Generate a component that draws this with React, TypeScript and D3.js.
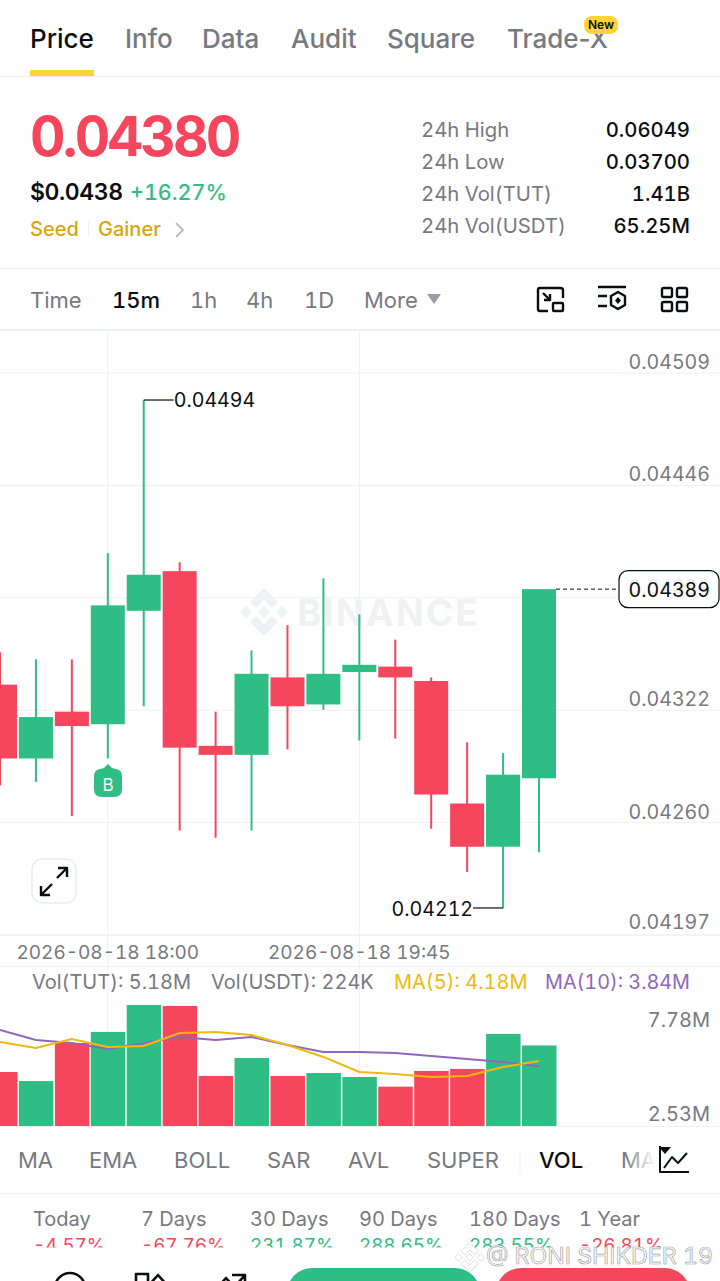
import React, { useEffect, useRef } from "react";
import * as d3 from "d3";

const FONT = "Inter, sans-serif";
const GREEN = "#2ebd85";
const RED = "#f6465d";
const GREY = "#76797f";
const INK = "#0b0e11";
const LOGO = "M264,588 L278,602 L272,608 L264,600 L256,608 L250,602 Z M264,636 L278,622 L272,616 L264,624 L256,616 L250,622 Z M240,612 L246,606 L252,612 L246,618 Z M276,612 L282,606 L288,612 L282,618 Z M264,606 L270,612 L264,618 L258,612 Z";

const tabs = ["Price", "Info", "Data", "Audit", "Square", "Trade-X"];
const tabX = [30, 125, 202, 291, 387, 507];
const stats = ["24h High", "24h Low", "24h Vol(TUT)", "24h Vol(USDT)"];
const statValues = ["0.06049", "0.03700", "1.41B", "65.25M"];
const intervals = ["Time", "15m", "1h", "4h", "1D", "More"];
const intervalX = [30, 112, 190, 246, 304, 364];
const indicators = ["MA", "EMA", "BOLL", "SAR", "AVL", "SUPER", "VOL", "MA"];
const indicatorX = [18, 89, 174, 267, 348, 427, 539, 621];
const periods = ["Today", "7 Days", "30 Days", "90 Days", "180 Days", "1 Year"];
const periodX = [33, 141, 250, 359, 469, 579];
const periodValues = ["-4.57%", "-67.76%", "231.87%", "288.65%", "283.55%", "-26.81%"];

// candles, left to right
const opens = [0.04336, 0.04295, 0.04321, 0.04314, 0.04377, 0.04399, 0.04302, 0.04297, 0.0434, 0.04325, 0.04343, 0.04346, 0.04338, 0.0427, 0.04246, 0.04284];
const closes = [0.04295, 0.04318, 0.04313, 0.0438, 0.04397, 0.04301, 0.04297, 0.04342, 0.04324, 0.04342, 0.04347, 0.0434, 0.04275, 0.04246, 0.04286, 0.04389];
const highs = [0.04354, 0.0435, 0.0435, 0.04409, 0.04494, 0.04404, 0.04321, 0.04355, 0.04369, 0.04395, 0.04375, 0.04361, 0.0434, 0.04304, 0.04298, 0.04389];
const lows = [0.0428, 0.04282, 0.04263, 0.04295, 0.04324, 0.04255, 0.04251, 0.04255, 0.043, 0.04322, 0.04305, 0.04306, 0.04256, 0.04232, 0.04212, 0.04243];
const priceTicks = ["0.04509", "0.04446", "0.04384", "0.04322", "0.04260", "0.04197"];

// volume in millions
const volumes = [3.47, 2.89, 5.34, 6.05, 7.78, 7.72, 3.22, 4.37, 3.22, 3.41, 3.15, 2.53, 3.54, 3.67, 5.92, 5.18];
const ma5 = [5.4, 5.02, 5.59, 5.08, 5.14, 5.98, 6.05, 5.85, 5.21, 4.44, 3.47, 3.34, 3.15, 3.22, 3.79, 4.18];
const ma10 = [6.17, 5.53, 5.34, 4.95, 5.34, 5.72, 5.53, 5.72, 5.21, 4.76, 4.76, 4.69, 4.5, 4.31, 4.12, 3.84];

const timeLabels = [
  { index: 3, text: "2026-08-18 18:00" },
  { index: 10, text: "2026-08-18 19:45" },
];

type Sel = d3.Selection<SVGGElement, unknown, null, undefined>;

function label(
  g: Sel,
  x: number,
  y: number,
  text: string,
  size: number,
  fill: string,
  anchor = "start",
  weight = 400
) {
  return g
    .append("text")
    .attr("x", x)
    .attr("y", y)
    .attr("font-size", size)
    .attr("font-weight", weight)
    .attr("fill", fill)
    .attr("text-anchor", anchor)
    .text(text);
}

function line(g: Sel, x1: number, y1: number, x2: number, y2: number, stroke: string, width = 1) {
  return g
    .append("line")
    .attr("x1", x1)
    .attr("y1", y1)
    .attr("x2", x2)
    .attr("y2", y2)
    .attr("stroke", stroke)
    .attr("stroke-width", width);
}

function outline(g: Sel, d: string, width = 2.4, stroke = INK) {
  return g
    .append("path")
    .attr("d", d)
    .attr("fill", "none")
    .attr("stroke", stroke)
    .attr("stroke-width", width)
    .attr("stroke-linejoin", "round");
}

export default function App() {
  const svgRef = useRef<SVGSVGElement>(null);

  useEffect(() => {
    const svg = d3.select(svgRef.current);
    svg.selectAll("*").remove();
    const root = svg
      .append("g")
      .attr("font-family", FONT)
      .style("font-variant-numeric", "tabular-nums") as unknown as Sel;

    const x = d3.scaleLinear().domain([0, 15]).range([0, 539]);
    const y = d3.scaleLinear().domain([0.04197, 0.04509]).range([935, 373]);
    const yTick = d3.scalePoint<string>().domain(priceTicks).range([373, 935]);
    const yVol = d3.scaleLinear().domain([0, 7.78]).range([1126, 1005]);
    const bodyW = 34;
    const colorOf = (i: number) => (closes[i] >= opens[i] ? GREEN : RED);
    const idx = d3.range(opens.length);

    // top tabs
    tabs.forEach((t, i) =>
      label(root, tabX[i], 48, t, 26, i === 0 ? INK : GREY, "start", 500).style("font-variant-numeric", "normal")
    );
    root.append("rect").attr("x", 30).attr("y", 70).attr("width", 64).attr("height", 6).attr("fill", "#fcd535");
    line(root, 0, 76.5, 720, 76.5, "#eeeff1");
    root.append("rect").attr("x", 584).attr("y", 16).attr("width", 34).attr("height", 18).attr("rx", 8).attr("fill", "#fcd535");
    label(root, 601, 29, "New", 12, INK, "middle", 600);

    // price header
    label(root, 30, 156, "0.04380", 55, RED, "start", 700).attr("letter-spacing", -2.8);
    label(root, 30, 200, "$0.0438", 23, INK, "start", 600).attr("letter-spacing", -0.4);
    label(root, 130, 200, "+16.27%", 21.5, GREEN, "start", 500);
    label(root, 30, 236, "Seed", 20, "#d9a507", "start", 500);
    line(root, 88.5, 222, 88.5, 236, "#eeeff1");
    label(root, 98, 236, "Gainer", 20, "#d9a507", "start", 500);
    outline(root, "M176,223 L183,230 L176,237", 1.6, "#a9adb3");
    stats.forEach((s, i) => {
      const rowY = 137 + i * 32;
      label(root, 421, rowY, s, 20.3, GREY);
      label(root, 690, rowY, statValues[i], 20.3, INK, "end", 500);
    });
    line(root, 0, 268.5, 720, 268.5, "#eeeff1");

    // interval row
    intervals.forEach((t, i) => label(root, intervalX[i], 308, t, 22, i === 1 ? INK : GREY, "start", i === 1 ? 500 : 400));
    root.append("path").attr("d", "M427,294 L441,294 L434,304 Z").attr("fill", "#9a9da3");
    outline(root, "M563,298 L563,290 Q563,288 560,288 L540,288 Q538,288 538,290 L538,309 Q538,311 540,311 L548,311");
    outline(root, "M543,293 L550,300 M550,294 L550,300 L544,300");
    root.append("rect").attr("x", 553).attr("y", 303).attr("width", 10).attr("height", 8).attr("rx", 1).attr("fill", "none").attr("stroke", INK).attr("stroke-width", 2.4);
    outline(root, "M598,287 L626,287 M598,296 L607,296 M598,306 L607,306");
    outline(root, "M618,292 L625,296 L625,305 L618,309 L611,305 L611,296 Z");
    root.append("path").attr("d", "M618,297 L621,300.5 L618,304 L615,300.5 Z").attr("fill", INK);
    [[662, 288], [677, 288], [662, 302], [677, 302]].forEach(([a, b]) => {
      root.append("rect").attr("x", a).attr("y", b).attr("width", 10).attr("height", 9).attr("rx", 1.5).attr("fill", "none").attr("stroke", INK).attr("stroke-width", 2.4);
    });
    line(root, 0, 330, 720, 330, "#eeeff1", 2);

    // price grid
    priceTicks.forEach((p) => line(root, 0, yTick(p)!, 720, yTick(p)!, "#eff0f2"));
    timeLabels.forEach((t) => line(root, x(t.index), 331, x(t.index), 1126, "#eff0f2"));

    // watermark behind candles
    const mark = root.append("g").attr("fill", "#f0f1f2") as unknown as Sel;
    mark.append("path").attr("d", LOGO);
    label(mark, 297, 626, "BINANCE", 37, "#f0f1f2", "start", 700).attr("letter-spacing", 2);

    // axis labels
    priceTicks.forEach((p, i) => {
      label(root, 710, yTick(p)! - (i === priceTicks.length - 1 ? 6 : 4), p, 19.6, GREY, "end");
    });

    // wicks and bodies
    root.append("g").selectAll("line").data(idx).enter().append("line")
      .attr("x1", (i) => x(i)).attr("x2", (i) => x(i))
      .attr("y1", (i) => y(highs[i])).attr("y2", (i) => y(lows[i]))
      .attr("stroke", colorOf).attr("stroke-width", 2);
    root.append("g").selectAll("rect").data(idx).enter().append("rect")
      .attr("x", (i) => x(i) - bodyW / 2).attr("width", bodyW)
      .attr("y", (i) => y(Math.max(opens[i], closes[i])))
      .attr("height", (i) => Math.abs(y(opens[i]) - y(closes[i])))
      .attr("fill", colorOf);

    // high / low callouts
    const hi = d3.maxIndex(highs);
    const lo = d3.minIndex(lows);
    line(root, x(hi), y(highs[hi]), x(hi) + 30, y(highs[hi]), INK, 1.2);
    label(root, x(hi) + 30, y(highs[hi]) + 7, highs[hi].toFixed(5), 19.6, INK);
    line(root, x(lo), y(lows[lo]), x(lo) - 30, y(lows[lo]), INK, 1.2);
    label(root, x(lo) - 30, y(lows[lo]) + 8, lows[lo].toFixed(5), 19.6, INK, "end");

    // last price tag
    const last = closes[closes.length - 1];
    line(root, x(15) + bodyW / 2, y(last), 618, y(last), INK).attr("stroke-dasharray", "4 3");
    root.append("rect").attr("x", 619).attr("y", y(last) - 18.5).attr("width", 100).attr("height", 37).attr("rx", 9).attr("fill", "#fff").attr("fill-opacity", 0.85).attr("stroke", INK).attr("stroke-width", 1.2);
    label(root, 710, y(last) + 8, last.toFixed(5), 19.6, INK, "end");

    // buy marker
    root.append("path").attr("d", "M108,764 L112,768 L116,769 Q122,770 122,776 L122,789 Q122,797 114,797 L102,797 Q94,797 94,789 L94,776 Q94,770 100,769 L104,768 Z").attr("fill", GREEN);
    label(root, 108, 791, "B", 17, "#ffffff", "middle");

    // expand button
    root.append("rect").attr("x", 32).attr("y", 859).attr("width", 44).attr("height", 44).attr("rx", 10).attr("fill", "#fff").attr("stroke", "#eaecef").attr("stroke-width", 1.5);
    outline(root, "M41,895 L52,884 M41,886 L41,895 L50,895 M57,878 L67,868 M58,868 L67,868 L67,877", 2.4);

    // time axis
    line(root, 0, 935, 720, 935, "#eeeff1");
    timeLabels.forEach((t) => label(root, x(t.index), 958.5, t.text, 19, GREY, "middle"));
    line(root, 0, 966.5, 720, 966.5, "#eeeff1");

    // volume legend
    label(root, 32, 989, "Vol(TUT): 5.18M", 20, GREY);
    label(root, 211, 989, "Vol(USDT): 224K", 20, GREY);
    label(root, 394, 989, "MA(5): 4.18M", 20, "#f0b90b");
    label(root, 690, 989, "MA(10): 3.84M", 19.8, "#8e67bd", "end");

    // volume bars
    root.append("g").selectAll("rect.vol").data(idx).enter().append("rect")
      .attr("class", "vol")
      .attr("x", (i) => x(i) - bodyW / 2).attr("width", bodyW + 0.5)
      .attr("y", (i) => yVol(volumes[i]))
      .attr("height", (i) => yVol(0) - yVol(volumes[i]))
      .attr("fill", colorOf);

    const maLine = d3.line<number>().x((_, i) => x(i)).y((d) => yVol(d));
    outline(root, maLine(ma10) as string, 2, "#8e67bd");
    outline(root, maLine(ma5) as string, 2, "#f0b90b");

    label(root, 710, 1027, "7.78M", 20, GREY, "end");
    label(root, 710, 1121, "2.53M", 20, GREY, "end");
    line(root, 0, 1126.5, 720, 1126.5, "#eeeff1");

    // indicator row, the last item fades out under the icon
    indicators.forEach((t, i) => label(root, indicatorX[i], 1168, t, 22, i === 6 ? INK : GREY, "start", i === 6 ? 500 : 400));
    line(root, 520, 1149, 520, 1172, "#eeeff1");
    const fade = svg.append("linearGradient").attr("id", "fade");
    fade.append("stop").attr("offset", "0").attr("stop-color", "#fff").attr("stop-opacity", 0);
    fade.append("stop").attr("offset", "1").attr("stop-color", "#fff");
    root.append("rect").attr("x", 625).attr("y", 1140).attr("width", 30).attr("height", 36).attr("fill", "url(#fade)");
    root.append("rect").attr("x", 655).attr("y", 1140).attr("width", 40).attr("height", 36).attr("fill", "#fff");
    outline(root, "M660,1146 L660,1172 L689,1172", 2);
    outline(root, "M664,1168 L672,1157 L678,1163 L687,1153", 2);
    root.append("path").attr("d", "M659,1147 L671,1147 L665,1154 Z").attr("fill", INK);
    line(root, 0, 1193.5, 720, 1193.5, "#eeeff1");

    // period row, values cut off by the bottom bar
    periods.forEach((t, i) => label(root, periodX[i], 1226, t, 20, GREY));
    svg.append("clipPath").attr("id", "periodClip").append("rect").attr("x", 0).attr("y", 1230).attr("width", 720).attr("height", 17.5);
    const clipped = root.append("g").attr("clip-path", "url(#periodClip)") as unknown as Sel;
    periodValues.forEach((t, i) => label(clipped, periodX[i], 1252, t, 18.8, t.startsWith("-") ? RED : GREEN));

    // bottom bar, cut by the page edge
    root.append("circle").attr("cx", 70).attr("cy", 1288).attr("r", 15).attr("fill", "none").attr("stroke", INK).attr("stroke-width", 2.6);
    outline(root, "M136,1290 L136,1274 L148,1274 L148,1290 M150,1284 L158,1275 L166,1284", 2.6);
    outline(root, "M218,1287 L226,1278 L234,1287 M232,1275 L245,1275 L245,1288 M245,1275 L238,1283", 2.6);
    root.append("rect").attr("x", 287).attr("y", 1268).attr("width", 193).attr("height", 50).attr("rx", 25).attr("fill", GREEN);
    root.append("rect").attr("x", 496).attr("y", 1268).attr("width", 194).attr("height", 50).attr("rx", 25).attr("fill", RED);

    // repost watermark
    label(root, 486, 1264, "@ RONI SHIKDER 19", 23.2, "#ffffff").attr("stroke", "#9a9a9a").attr("stroke-width", 0.7).attr("opacity", 0.9);
    outline(root, LOGO, 1, "#c4c4c4").attr("fill", "#fff").attr("transform", "translate(306,878) scale(0.62)");
  }, []);

  return (
    <svg
      ref={svgRef}
      width={720}
      height={1281}
      style={{ position: "absolute", left: 0, top: 0, background: "#fff" }}
    />
  );
}
